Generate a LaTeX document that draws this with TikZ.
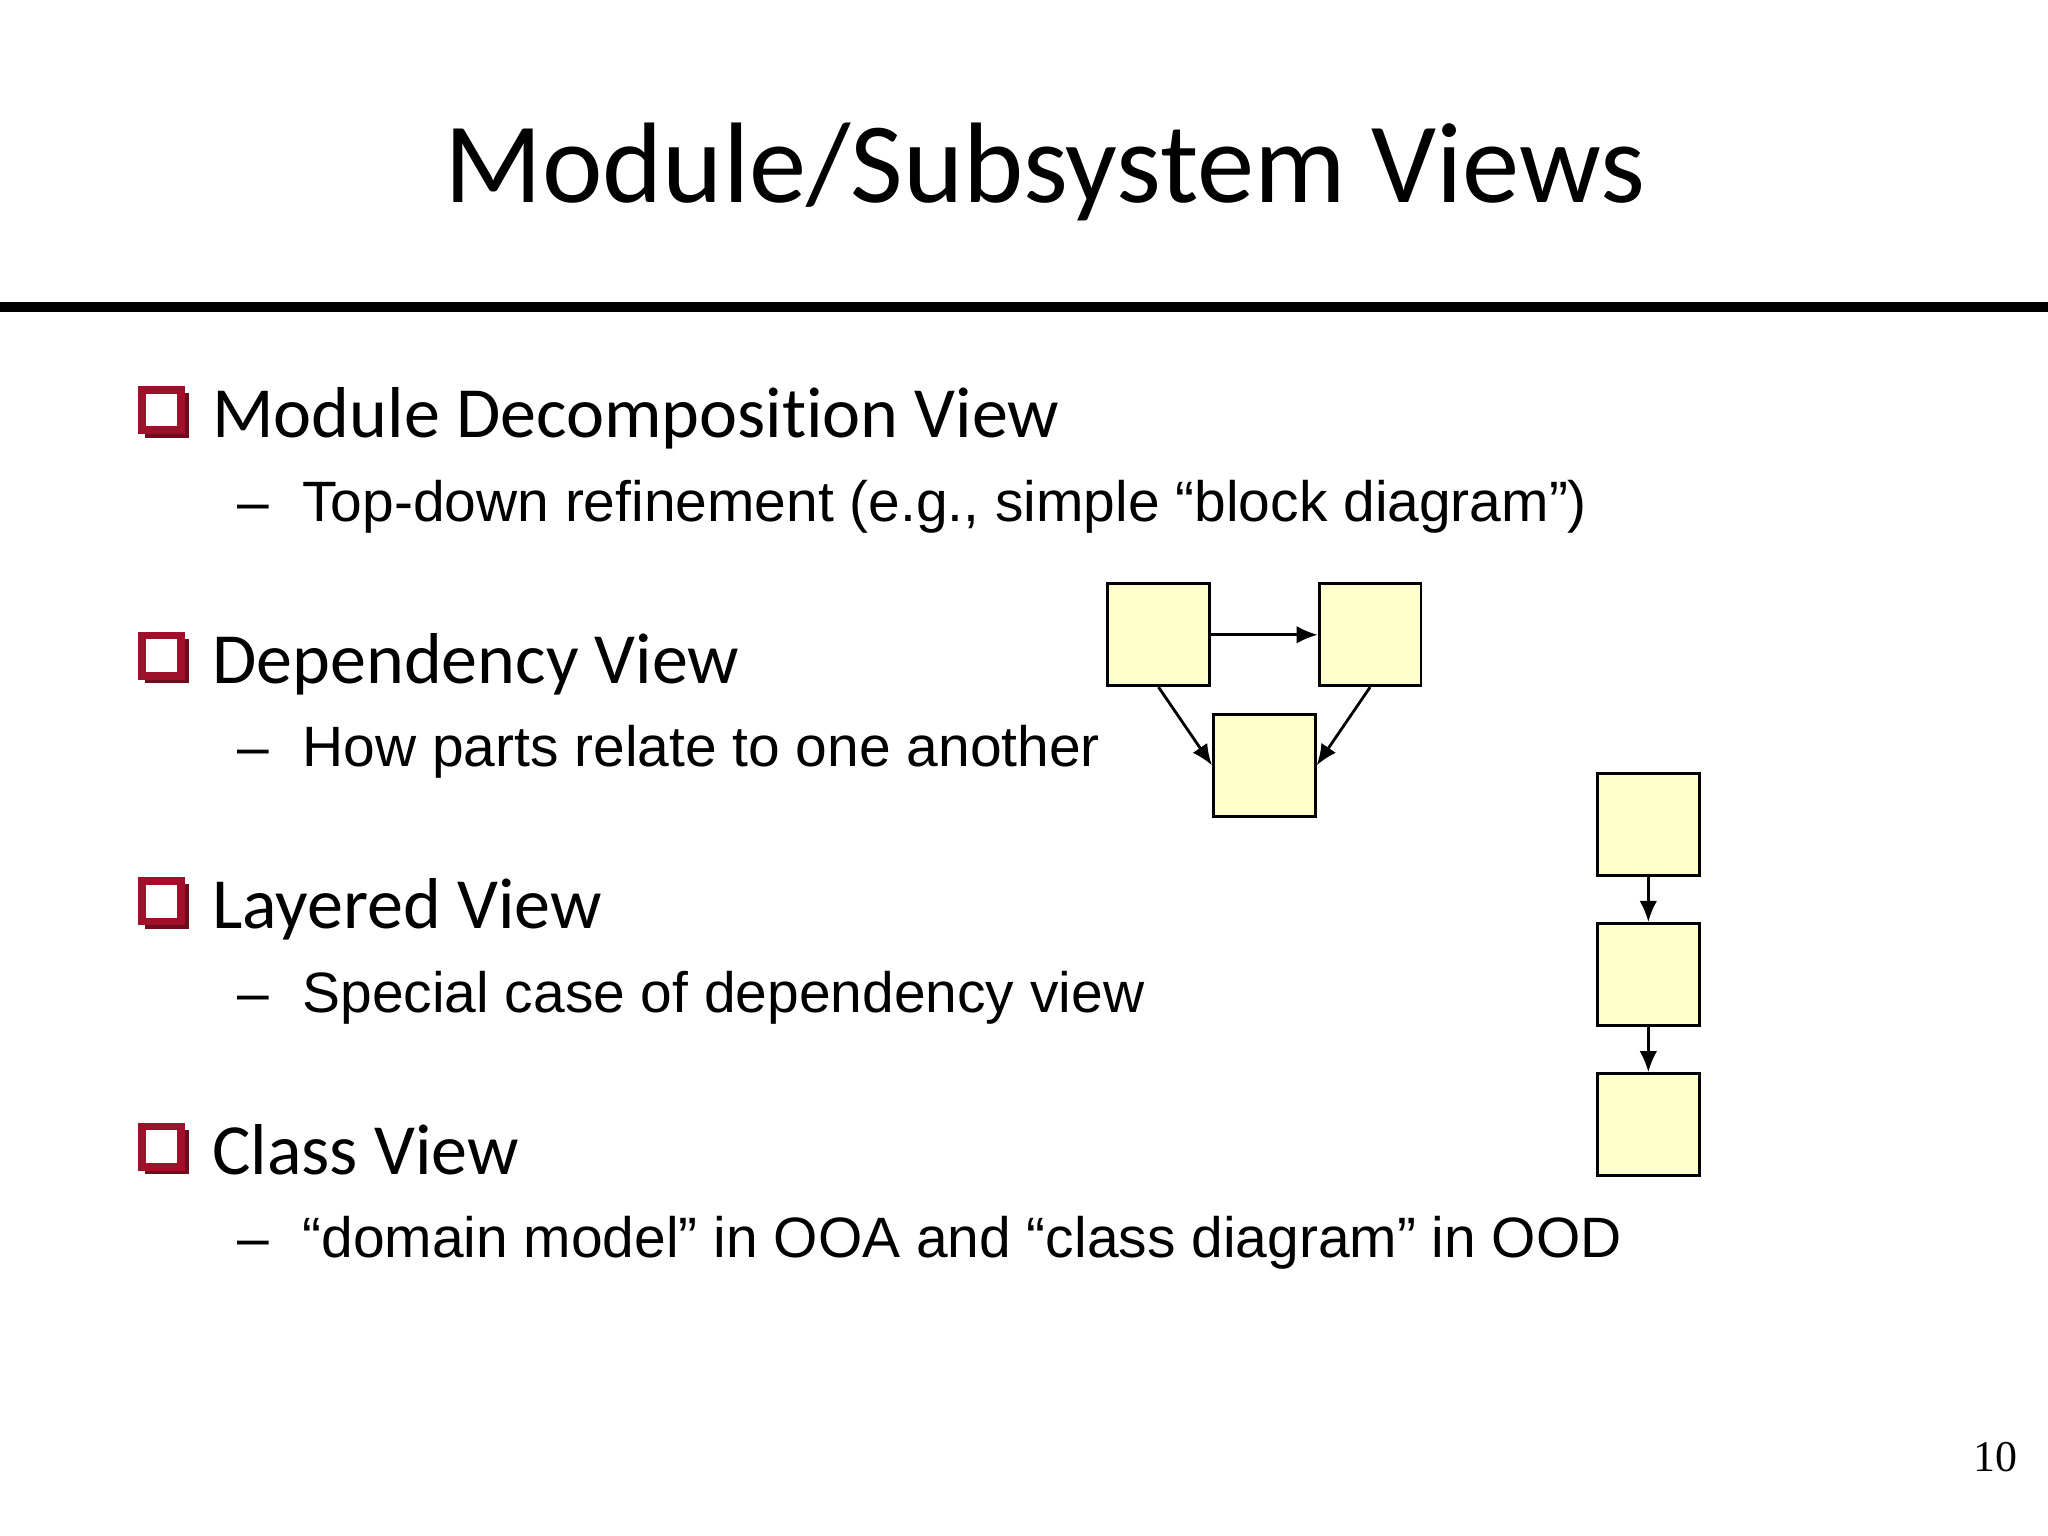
\documentclass[tikz,border=0pt]{standalone}
\usepackage{fontspec}
\setmainfont{Carlito}[Ligatures=NoCommon]
\newfontfamily\arialf{Liberation Sans}
\newfontfamily\timesf{Liberation Serif}
\usetikzlibrary{arrows.meta}
\definecolor{bred}{HTML}{A0102A}
\definecolor{boxy}{HTML}{FFFFCC}
\begin{document}
\begin{tikzpicture}[x=0.013061cm,y=-0.013061cm,
  blk/.style={draw=black,fill=boxy,minimum size=78*0.013061cm,inner sep=0pt,line width=0.8pt},
  arr/.style={-{Latex[length=6pt,width=5pt]},line width=0.8pt},
  l1/.style={anchor=base west,inner sep=0pt,font=\fontsize{20.5}{24}\selectfont},
  l2/.style={anchor=base west,inner sep=0pt,font=\arialf\fontsize{16.2}{19}\selectfont}]
\useasboundingbox (0,0) rectangle (1568,1176);
\node[anchor=base,inner sep=0pt,font=\fontsize{32.6}{40}\selectfont] (title) at (800,155) {Module/Subsystem Views};
\draw[line width=8*0.3716pt] (0,235) -- (1568,235);
\newcommand{\qbul}[1]{%
  \fill[bred!70!black] (111,#1-34) rectangle (145,#1);
  \fill[white] (107,#1-38) rectangle (140,#1-4);
  \draw[bred,line width=2.2pt] (108.5,#1-36.5) rectangle (138.5,#1-5.5);}
\foreach \yb/\ys/\ta/\tb in {335/399/{Module Decomposition View}/{Top-down refinement (e.g., simple “block diagram”)},
  523/587/{Dependency View}/{How parts relate to one another},
  711/775/{Layered View}/{Special case of dependency view},
  899/963/{Class View}/{“domain model” in OOA and “class diagram” in OOD}}{
  \qbul{\yb}
  \node[l1] at (162,\yb) {\ta};
  \node[l2] at (181,\ys) {–};
  \node[l2] at (231,\ys) {\tb};
}
\node[blk] (a) at (887,486) {};
\node[blk] (b) at (1049,486) {};
\node[blk] (c) at (968,586) {};
\draw[arr] (a.east) -- (b.west);
\draw[arr] (a.south) -- (c.west);
\draw[arr] (b.south) -- (c.east);
\node[blk] (d) at (1262,631) {};
\node[blk] (e) at (1262,746) {};
\node[blk] (f) at (1262,861) {};
\draw[arr] (d) -- (e);
\draw[arr] (e) -- (f);
\node[anchor=base east,inner sep=0pt,font=\timesf\fontsize{12.5}{14}\selectfont] (pg) at (1545,1127) {10};
\end{tikzpicture}
\end{document}
